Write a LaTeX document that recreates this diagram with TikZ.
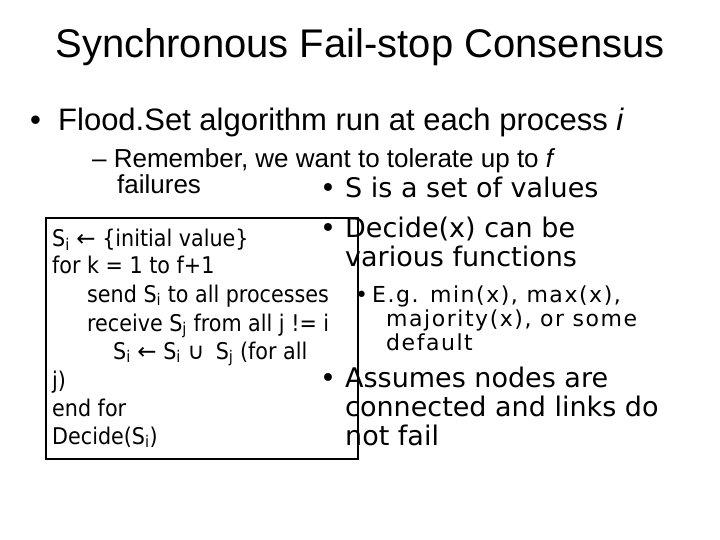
\documentclass[tikz,border=0pt]{standalone}
\usepackage{fontspec}
\setmainfont{Liberation Sans}
\newfontfamily\verd{DejaVu Sans}
\newfontfamily\verdw[LetterSpace=7]{DejaVu Sans}
\newfontfamily\tah{DejaVu Sans Condensed}
\begin{document}
\begin{tikzpicture}[x=1pt,y=-1pt,
  t/.style={anchor=base west,inner sep=0pt},
  ar/.style={t,font=\fontsize{40}{40}\selectfont},
  br/.style={t,font=\fontsize{31}{31}\selectfont},
  sr/.style={t,font=\fontsize{26}{26}\selectfont},
  vr/.style={t,font=\verd\fontsize{27}{27}\selectfont},
  vs/.style={t,font=\verdw\fontsize{22}{22}\selectfont},
  bx/.style={t,font=\tah\fontsize{23}{23}\selectfont}]
\useasboundingbox (0,0) rectangle (720,540);
\node[ar,anchor=base] (title) at (360,58) {Synchronous Fail-stop Consensus};
\node[br] (b1) at (30,131) {•};
\node[br] (b1t) at (58,131) {Flood.Set algorithm run at each process \textit{i}};
\node[sr] (r1) at (92,168) {– Remember, we want to tolerate up to \textit{f}};
\node[sr] (r2) at (117,194) {failures};
\node[draw,line width=1.6pt,minimum width=312pt,minimum height=241pt,anchor=north west] (box) at (45,217) {};
\node[bx] (l1) at (52,247) {S\textsubscript{i} {\verd←} \{initial value\}};
\node[bx] (l2) at (52,273) {for k = 1 to f+1};
\node[bx] (l3) at (87,302) {send S\textsubscript{i} to all processes};
\node[bx] (l4) at (87,331) {receive S\textsubscript{j} from all j != i};
\node[bx] (l5) at (113,359) {S\textsubscript{i} {\verd←} S\textsubscript{i} {\verd∪}\enspace S\textsubscript{j} (for all};
\node[bx] (l6) at (52,388) {j)};
\node[bx] (l7) at (52,416) {end for};
\node[bx] (l8) at (52,444) {Decide(S\textsubscript{i})};
\node[vr] (c1) at (320,198) {•};
\node[vr] (c1t) at (345,198) {S is a set of values};
\node[vr] (c2) at (320,237) {•};
\node[vr] (c2t) at (345,237) {Decide(x) can be};
\node[vr] (c3) at (345,266) {various functions};
\node[vs] (d1) at (355,302) {•};
\node[vs] (d1t) at (372,302) {E.g. min(x), max(x),};
\node[vs] (d2) at (386,326) {majority(x), or some};
\node[vs] (d3) at (386,350) {default};
\node[vr] (e1) at (320,387) {•};
\node[vr] (e1t) at (345,387) {Assumes nodes are};
\node[vr] (e2) at (345,416) {connected and links do};
\node[vr] (e3) at (345,445) {not fail};
\end{tikzpicture}
\end{document}
